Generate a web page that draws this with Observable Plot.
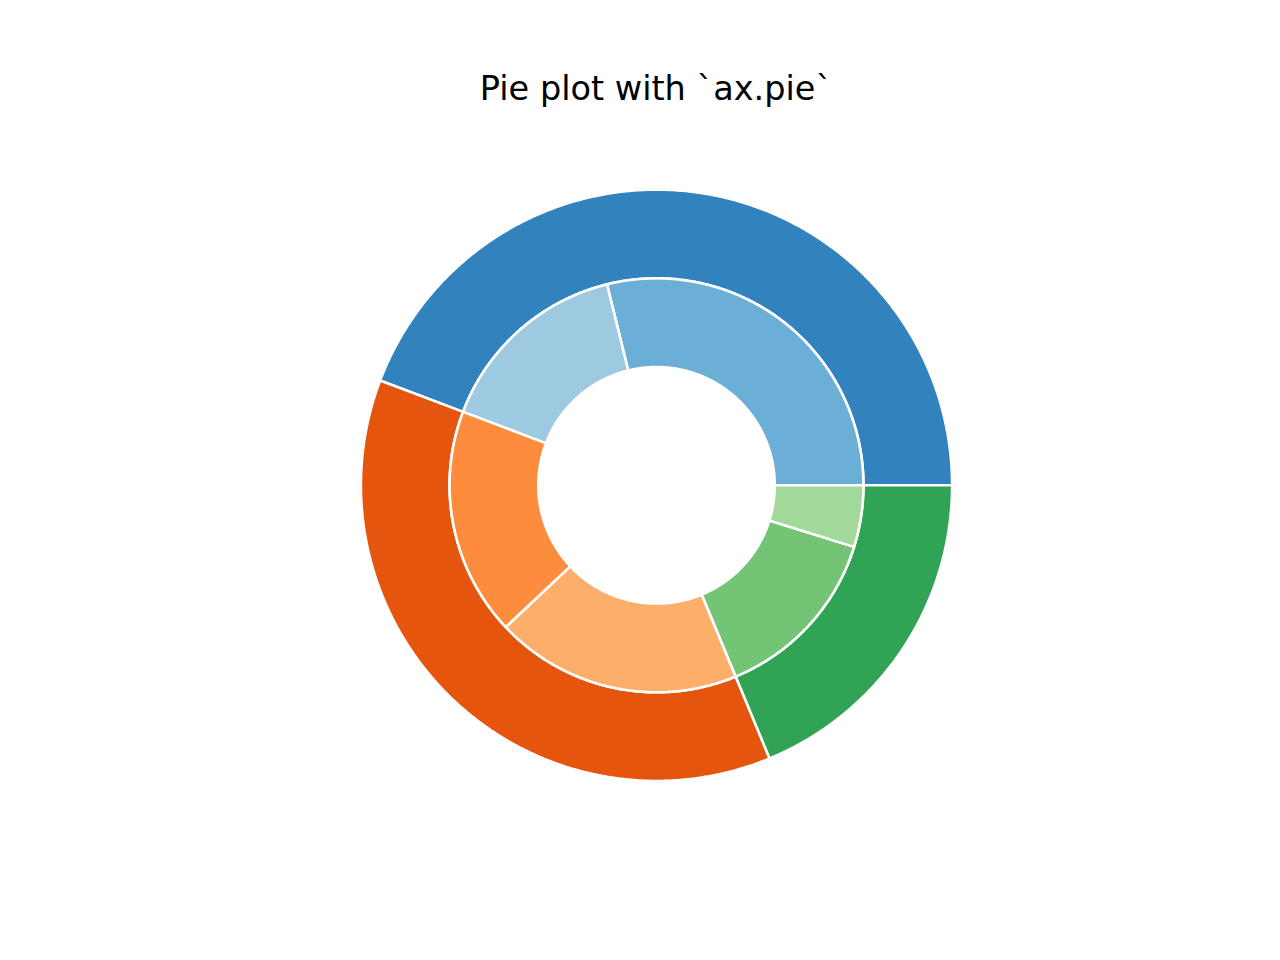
<!DOCTYPE html>
<html>
<head>
<meta charset="utf-8">
<script src="https://cdn.jsdelivr.net/npm/d3@7"></script>
<script src="https://cdn.jsdelivr.net/npm/@observablehq/plot@0.6"></script>
<style>
  html, body { margin: 0; padding: 0; background: #fff; overflow: hidden; }
  #wrap { position: relative; width: 1280px; height: 960px; overflow: hidden; }
  #title { position: absolute; left: 356px; width: 600px; top: 69px; text-align: center;
           font-family: "DejaVu Sans", sans-serif; font-size: 33.5px; line-height: 40px; color: #000; white-space: nowrap; }
  #chart { position: absolute; left: 0; top: 0; }
</style>
</head>
<body>
<div id="wrap">
  <div id="chart"></div>
  <div id="title">Pie plot with `ax.pie`</div>
</div>
<script>
// Data (matplotlib nested pie example)
const outerLabels = ["A", "B", "C"];
const outerValues = [92, 77, 39];
const outerColors = ["#3182bd", "#e6550d", "#31a354"];
const innerLabels = ["A1", "A2", "B1", "B2", "C1", "C2"];
const innerValues = [60, 32, 37, 40, 29, 10];
const innerColors = ["#6baed6", "#9ecae1", "#fd8d3c", "#fdae6b", "#74c476", "#a1d99b"];
const outerRadius = 1.0;
const ringWidth = 0.3;

function ring(labels, values, colors, rOut, rIn) {
  const total = d3.sum(values);
  const pts = [];
  let acc = 0;
  values.forEach((v, i) => {
    const a0 = acc / total * 2 * Math.PI;
    acc += v;
    const a1 = acc / total * 2 * Math.PI;
    const n = Math.max(2, Math.ceil((a1 - a0) / (Math.PI / 360)));
    const id = labels[i];
    const poly = [];
    for (let k = 0; k <= n; k++) {
      const a = a0 + (a1 - a0) * k / n;
      poly.push({x: rOut * Math.cos(a), y: rOut * Math.sin(a)});
    }
    for (let k = n; k >= 0; k--) {
      const a = a0 + (a1 - a0) * k / n;
      poly.push({x: rIn * Math.cos(a), y: rIn * Math.sin(a)});
    }
    poly.push(poly[0]);
    poly.forEach(p => pts.push({...p, id, color: colors[i]}));
  });
  return pts;
}

const outerPts = ring(outerLabels, outerValues, outerColors, outerRadius, outerRadius - ringWidth);
const innerPts = ring(innerLabels, innerValues, innerColors, outerRadius - ringWidth, outerRadius - 2 * ringWidth);

const chart = Plot.plot({
  width: 1280,
  height: 960,
  marginLeft: 286.5,
  marginRight: 254.5,
  marginTop: 115.2,
  marginBottom: 105.6,
  x: {domain: [-1.25, 1.25], axis: null},
  y: {domain: [-1.25, 1.25], axis: null},
  color: {type: "identity"},
  marks: [
    Plot.line(outerPts, {x: "x", y: "y", z: "id", fill: "color", stroke: "white", strokeWidth: 2.6, curve: "linear"}),
    Plot.line(innerPts, {x: "x", y: "y", z: "id", fill: "color", stroke: "white", strokeWidth: 2.6, curve: "linear"})
  ]
});
document.getElementById("chart").appendChild(chart);
</script>
</body>
</html>
